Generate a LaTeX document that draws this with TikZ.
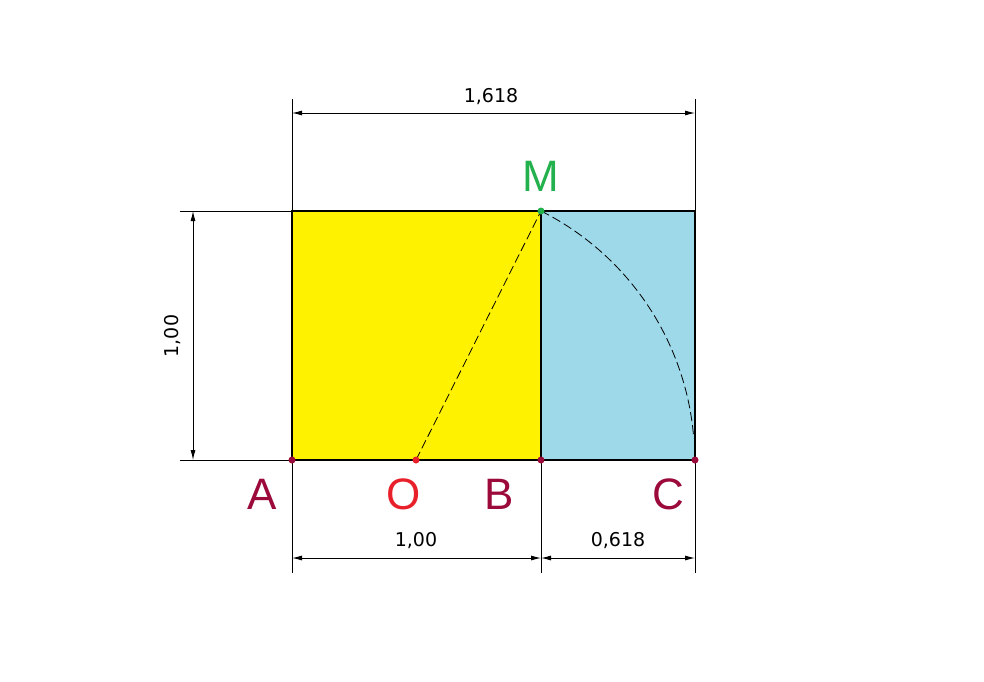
\documentclass[tikz,border=0pt]{standalone}
\usepackage{fontspec}
\setmainfont{Liberation Sans}
\newfontfamily\dimfont{DejaVu Sans}
\usetikzlibrary{arrows.meta}
\definecolor{goldyellow}{HTML}{FFF200}
\definecolor{skyb}{HTML}{9DD9E9}
\definecolor{wine}{HTML}{9B0A3A}
\definecolor{redO}{HTML}{E8202A}
\definecolor{greenM}{HTML}{22B14C}
\tikzset{
  dimline/.style={line width=0.9pt, {Latex[length=10pt,width=5pt]}-{Latex[length=10pt,width=5pt]}},
  extline/.style={line width=0.9pt},
  edge/.style={line width=2pt},
  dimtxt/.style={font=\dimfont\fontsize{19}{19}\selectfont, inner sep=0pt, anchor=base},
  ptlabel/.style={font=\fontsize{44}{44}\selectfont, inner sep=0pt},
  dot/.style={circle, inner sep=0pt, minimum size=7pt},
  dashline/.style={line width=0.8pt, dash pattern=on 9pt off 4pt}
}
\begin{document}
\begin{tikzpicture}[x=1pt,y=-1pt]
\useasboundingbox[fill=white] (0,0) rectangle (984,681);
% coordinates
\coordinate (A) at (292,460);
\coordinate (O) at (416,460);
\coordinate (B) at (541,460);
\coordinate (C) at (695,460);
\coordinate (M) at (541,211);
\coordinate (D) at (292,211);
\coordinate (E) at (695,211);
% fills
\fill[goldyellow] (A) rectangle (M);
\fill[skyb] (B) rectangle (E);
% dashed construction
\draw[dashline] (O) -- (M);
\draw[dashline] (M) arc[start angle=-63.34, end angle=-4.5, radius=278.6];
% edges
\draw[edge] (A) rectangle (E);
\draw[edge] (B) -- (M);
% extension lines
\coordinate (t1) at (292,99);
\coordinate (t2) at (695,99);
\draw[extline] (t1) -- (D);
\draw[extline] (t2) -- (E);
\coordinate (l1) at (180,211);
\coordinate (l2) at (180,460);
\draw[extline] (l1) -- (D);
\draw[extline] (l2) -- (A);
\coordinate (b1) at (292,573);
\coordinate (b2) at (541,573);
\coordinate (b3) at (695,573);
\draw[extline] (A) -- (b1);
\draw[extline] (B) -- (b2);
\draw[extline] (C) -- (b3);
% dimension lines
\coordinate (dt1) at (292,113);
\coordinate (dt2) at (695,113);
\draw[dimline] (dt1) -- (dt2);
\coordinate (dl1) at (193,211);
\coordinate (dl2) at (193,460);
\draw[dimline] (dl1) -- (dl2);
\coordinate (db1) at (292,558);
\coordinate (db2) at (541,558);
\coordinate (db3) at (695,558);
\draw[dimline] (db1) -- (db2);
\draw[dimline] (db2) -- (db3);
% dimension texts
\node[dimtxt] (ttop) at (491,102) {1,618};
\node[dimtxt, rotate=90] (tleft) at (178,336) {1,00};
\node[dimtxt] (tb1) at (416,546) {1,00};
\node[dimtxt] (tb2) at (618,546) {0,618};
% points
\node[dot, fill=wine] (pA) at (A) {};
\node[dot, fill=redO] (pO) at (O) {};
\node[dot, fill=wine] (pB) at (B) {};
\node[dot, fill=wine] (pC) at (C) {};
\node[dot, fill=greenM] (pM) at (M) {};
% labels
\node[ptlabel, text=wine] (lA) at (262,494) {A};
\node[ptlabel, text=redO] (lO) at (404,494) {O};
\node[ptlabel, text=wine] (lB) at (499,494) {B};
\node[ptlabel, text=wine] (lC) at (668,494) {C};
\node[ptlabel, text=greenM] (lM) at (541,176) {M};
\end{tikzpicture}
\end{document}
